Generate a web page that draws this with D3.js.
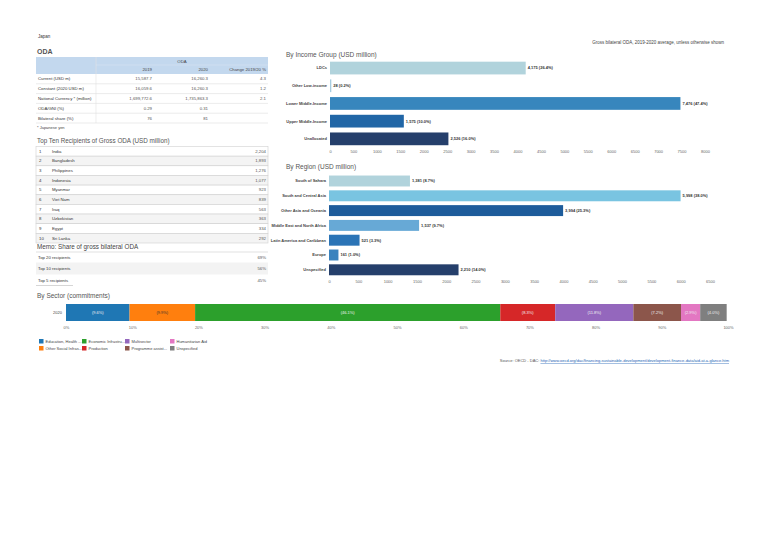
<!DOCTYPE html>
<html>
<head>
<meta charset="utf-8">
<script src="https://cdn.jsdelivr.net/npm/d3@7"></script>
<style>
  html, body { margin: 0; padding: 0; background: #fff; }
  svg { display: block; font-family: "Liberation Sans", Arial, sans-serif; }
</style>
</head>
<body>
<svg id="chart" width="768" height="543"></svg>
<script>
// ---------------- DATA ----------------
const odaRowLabels = ["Current (USD m)", "Constant (2020 USD m)", "National Currency * (million)", "ODA/GNI (%)", "Bilateral share (%)"];
const oda2019 = ["15,587.7", "16,059.6", "1,699,772.6", "0.29", "76"];
const oda2020 = ["16,260.3", "16,260.3", "1,735,863.3", "0.31", "81"];
const odaChange = ["4.3", "1.2", "2.1", "", ""];
const odaColumns = ["2019", "2020", "Change 2019/20 %"];

const recipientRanks = [1, 2, 3, 4, 5, 6, 7, 8, 9, 10];
const recipientNames = ["India", "Bangladesh", "Philippines", "Indonesia", "Myanmar", "Viet Nam", "Iraq", "Uzbekistan", "Egypt", "Sri Lanka"];
const recipientValues = [2204, 1893, 1276, 1077, 923, 839, 563, 363, 334, 292];

const memoLabels = ["Top 20 recipients", "Top 10 recipients", "Top 5 recipients"];
const memoValues = [69, 56, 45];

const incomeCats = ["LDCs", "Other Low-income", "Lower Middle-Income", "Upper Middle-Income", "Unallocated"];
const incomeValues = [4175, 28, 7476, 1575, 2526];
const incomePct = [26.4, 0.2, 47.4, 10.0, 16.0];
const incomeColors = ["#b1d3dc", "#a8cde0", "#3786bd", "#2166a6", "#253f6b"];
const incomeTicks = d3.range(0, 8001, 500);

const regionCats = ["South of Sahara", "South and Central Asia", "Other Asia and Oceania", "Middle East and North Africa", "Latin America and Caribbean", "Europe", "Unspecified"];
const regionValues = [1381, 5998, 3994, 1537, 521, 161, 2210];
const regionPct = [8.7, 38.0, 25.3, 9.7, 3.3, 1.0, 14.0];
const regionColors = ["#b1d3dc", "#79c4e1", "#1e5c9b", "#67a9d6", "#2b74b6", "#3a83be", "#253f6b"];
const regionTicks = d3.range(0, 6501, 500);

const sectorYear = ["2020"];
const sectorNames = ["Education, Health ...", "Other Social Infras...", "Economic Infrastru...", "Production", "Multisector", "Programme assist...", "Humanitarian Aid", "Unspecified"];
const sectorPct = [9.6, 9.9, 46.1, 8.3, 11.8, 7.2, 2.9, 4.0];
const sectorColors = ["#1f77b4", "#ff7f0e", "#2ca02c", "#d62728", "#9467bd", "#8c564b", "#e377c2", "#7f7f7f"];
const sectorTicks = d3.range(0, 101, 10);

// ---------------- DRAW ----------------
const svg = d3.select("#chart");
const fmt = d3.format(",");
const tiny = 4.3;
const titleColor = "#555";

// header texts
svg.append("text").attr("x", 38).attr("y", 37.5).attr("font-size", 4.5).attr("fill", "#333").text("Japan");
svg.append("text").attr("x", 724).attr("y", 43.5).attr("text-anchor", "end").attr("font-size", 4.5).attr("fill", "#444")
  .text("Gross bilateral ODA, 2019-2020 average, unless otherwise shown");

function title(x, y, t, size, weight) {
  svg.append("text").attr("x", x).attr("y", y).attr("font-size", size || 6.5)
    .attr("font-weight", weight || "normal").attr("fill", titleColor).text(t);
}

// ---- ODA table ----
title(37, 54, "ODA", 7, "bold");
const tL = 36, tR = 268, hTop = 57, hBot = 74, rowH = 9.8;
svg.append("rect").attr("x", tL).attr("y", hTop).attr("width", tR - tL).attr("height", hBot - hTop).attr("fill", "#c3d8ee");
svg.append("line").attr("x1", 96).attr("x2", 96).attr("y1", hTop).attr("y2", hBot + rowH * 5).attr("stroke", "#e2e2e2").attr("stroke-width", 0.6);
svg.append("line").attr("x1", 96).attr("x2", tR).attr("y1", 65).attr("y2", 65).attr("stroke", "#d8e4f2").attr("stroke-width", 0.5);
svg.append("text").attr("x", 182).attr("y", 62.5).attr("text-anchor", "middle").attr("font-size", tiny).attr("fill", "#444").text("ODA");
const colX = [152, 208, 266];
odaColumns.forEach((c, i) => {
  svg.append("text").attr("x", colX[i]).attr("y", 71).attr("text-anchor", "end").attr("font-size", tiny).attr("fill", "#444").text(c);
});
odaRowLabels.forEach((lab, i) => {
  const y0 = hBot + i * rowH;
  svg.append("line").attr("x1", tL).attr("x2", tR).attr("y1", y0 + rowH).attr("y2", y0 + rowH).attr("stroke", "#ddd").attr("stroke-width", 0.6);
  const yy = y0 + rowH / 2 + 1.5;
  svg.append("text").attr("x", 38).attr("y", yy).attr("font-size", tiny).attr("fill", "#333").text(lab);
  [oda2019[i], oda2020[i], odaChange[i]].forEach((v, j) => {
    svg.append("text").attr("x", colX[j]).attr("y", yy).attr("text-anchor", "end").attr("font-size", tiny).attr("fill", "#555").text(v);
  });
});
svg.append("text").attr("x", 37).attr("y", 129).attr("font-size", 4).attr("fill", "#444").text("* Japanese yen");

// ---- Top ten recipients ----
title(37, 143, "Top Ten Recipients of Gross ODA (USD million)", 6.3);
const rTop = 146.5, rH = 9.65;
recipientNames.forEach((n, i) => {
  const y0 = rTop + i * rH;
  svg.append("rect").attr("x", tL).attr("y", y0).attr("width", tR - tL).attr("height", rH)
    .attr("fill", i % 2 ? "#f4f4f4" : "#fff").attr("stroke", "#d0d0d0").attr("stroke-width", 0.6);
  const yy = y0 + rH / 2 + 1.5;
  svg.append("text").attr("x", 39).attr("y", yy).attr("font-size", tiny).attr("fill", "#333").text(recipientRanks[i]);
  svg.append("text").attr("x", 52).attr("y", yy).attr("font-size", tiny).attr("fill", "#333").text(n);
  svg.append("text").attr("x", 266).attr("y", yy).attr("text-anchor", "end").attr("font-size", tiny).attr("fill", "#555").text(fmt(recipientValues[i]));
});

// ---- Memo ----
svg.append("text").attr("x", 37).attr("y", 248.5).attr("font-size", 6.3).attr("fill", "#444").text("Memo: Share of gross bilateral ODA");
const mTop = 252, mH = [10.5, 12, 11.5];
let my = mTop;
memoLabels.forEach((lab, i) => {
  if (i === 1) svg.append("rect").attr("x", tL).attr("y", my).attr("width", tR - tL).attr("height", mH[i]).attr("fill", "#f3f3f3");
  if (i === 0) svg.append("line").attr("x1", tL).attr("x2", tR).attr("y1", my).attr("y2", my).attr("stroke", "#ccc").attr("stroke-width", 0.6);
  const yy = my + mH[i] / 2 + 1.5;
  svg.append("text").attr("x", 38).attr("y", yy).attr("font-size", tiny).attr("fill", "#333").text(lab);
  svg.append("text").attr("x", 266).attr("y", yy).attr("text-anchor", "end").attr("font-size", tiny).attr("fill", "#555").text(memoValues[i] + "%");
  my += mH[i];
});
svg.append("line").attr("x1", tL).attr("x2", 73).attr("y1", 285.5).attr("y2", 285.5).attr("stroke", "#bbb").attr("stroke-width", 0.6);

// ---- horizontal bar chart helper ----
function hbar(cats, vals, pct, colors, ticks, xDom, xRange, yRange, pi, po, axisY, titleText, titleY) {
  title(286, titleY, titleText, 6.5);
  const x = d3.scaleLinear().domain(xDom).range(xRange);
  const y = d3.scaleBand().domain(cats).range(yRange).paddingInner(pi).paddingOuter(po);
  const g = svg.append("g");
  g.selectAll("rect.bar").data(cats).join("rect").attr("class", "bar")
    .attr("x", x(0)).attr("y", d => y(d))
    .attr("width", (d, i) => Math.max(0.8, x(vals[i]) - x(0)))
    .attr("height", y.bandwidth())
    .attr("fill", (d, i) => colors[i]);
  g.selectAll("text.cat").data(cats).join("text").attr("class", "cat")
    .attr("x", x(0) - 3).attr("y", d => y(d) + y.bandwidth() / 2 + 1.4)
    .attr("text-anchor", "end").attr("font-size", 4).attr("font-weight", "bold").attr("fill", "#444").text(d => d);
  g.selectAll("text.val").data(cats).join("text").attr("class", "val")
    .attr("x", (d, i) => x(vals[i]) + 2).attr("y", d => y(d) + y.bandwidth() / 2 + 1.4)
    .attr("font-size", 4).attr("font-weight", "bold").attr("fill", "#333")
    .text((d, i) => fmt(vals[i]) + " (" + pct[i].toFixed(1) + "%)");
  const ax = svg.append("g").attr("transform", `translate(0,${axisY})`)
    .call(d3.axisBottom(x).tickValues(ticks).tickSize(0).tickPadding(0).tickFormat(d3.format("d")));
  ax.select(".domain").remove();
  ax.selectAll("text").attr("font-size", 4).attr("fill", "#666").attr("font-family", "Liberation Sans, Arial, sans-serif");
}

hbar(incomeCats, incomeValues, incomePct, incomeColors, incomeTicks, [0, 8000], [330, 705], [59.2, 147.7], 0.28, 0.14, 150.5, "By Income Group (USD million)", 56.5);
hbar(regionCats, regionValues, regionPct, regionColors, regionTicks, [0, 6500], [329, 710], [173.6, 277.2], 0.26, 0.13, 280.5, "By Region (USD million)", 169);

// ---- Sector stacked bar ----
title(37, 298, "By Sector (commitments)", 6.5);
const xs = d3.scaleLinear().domain([0, 100]).range([66, 728]);
const ys = d3.scaleBand().domain(sectorYear).range([304, 321]);
const cum = d3.cumsum(sectorPct);
const starts = sectorPct.map((v, i) => cum[i] - v);
const gs = svg.append("g");
gs.selectAll("rect").data(sectorPct).join("rect")
  .attr("x", (d, i) => xs(starts[i])).attr("y", ys("2020"))
  .attr("width", (d, i) => xs(starts[i] + d) - xs(starts[i])).attr("height", ys.bandwidth())
  .attr("fill", (d, i) => sectorColors[i]);
gs.selectAll("text").data(sectorPct).join("text")
  .attr("x", (d, i) => xs(starts[i] + d / 2)).attr("y", ys("2020") + ys.bandwidth() / 2 + 1.4)
  .attr("text-anchor", "middle").attr("font-size", 4)
  .attr("fill", (d, i) => i === 1 ? "#333" : "#f0f0f0")
  .text(d => "(" + d.toFixed(1) + "%)");
svg.append("text").attr("x", 62).attr("y", ys("2020") + ys.bandwidth() / 2 + 1.4).attr("text-anchor", "end")
  .attr("font-size", 4).attr("fill", "#444").text(sectorYear[0]);
const axs = svg.append("g").attr("transform", "translate(0,326)")
  .call(d3.axisBottom(xs).tickValues(sectorTicks).tickSize(0).tickPadding(0).tickFormat(d => d + "%"));
axs.select(".domain").remove();
axs.selectAll("text").attr("font-size", 4).attr("fill", "#666").attr("font-family", "Liberation Sans, Arial, sans-serif");

// legend (column-major, 2 rows)
const legendOrder = [0, 1, 2, 3, 4, 5, 6, 7];
const legCols = [39, 82, 125, 170];
legendOrder.forEach((k, idx) => {
  const col = Math.floor(idx / 2), row = idx % 2;
  const lx = legCols[col], ly = 339 + row * 7;
  svg.append("rect").attr("x", lx).attr("y", ly).attr("width", 4.5).attr("height", 4.5).attr("fill", sectorColors[k]);
  svg.append("text").attr("x", lx + 6.5).attr("y", ly + 3.8).attr("font-size", 4).attr("fill", "#444").text(sectorNames[k]);
});

// source
const src = svg.append("text").attr("x", 729).attr("y", 362).attr("text-anchor", "end").attr("font-size", 4).attr("fill", "#555");
src.append("tspan").text("Source: OECD - DAC: ");
src.append("tspan").attr("fill", "#1a5fb4").attr("text-decoration", "underline")
  .text("http://www.oecd.org/dac/financing-sustainable-development/development-finance-data/aid-at-a-glance.htm");
</script>
</body>
</html>
